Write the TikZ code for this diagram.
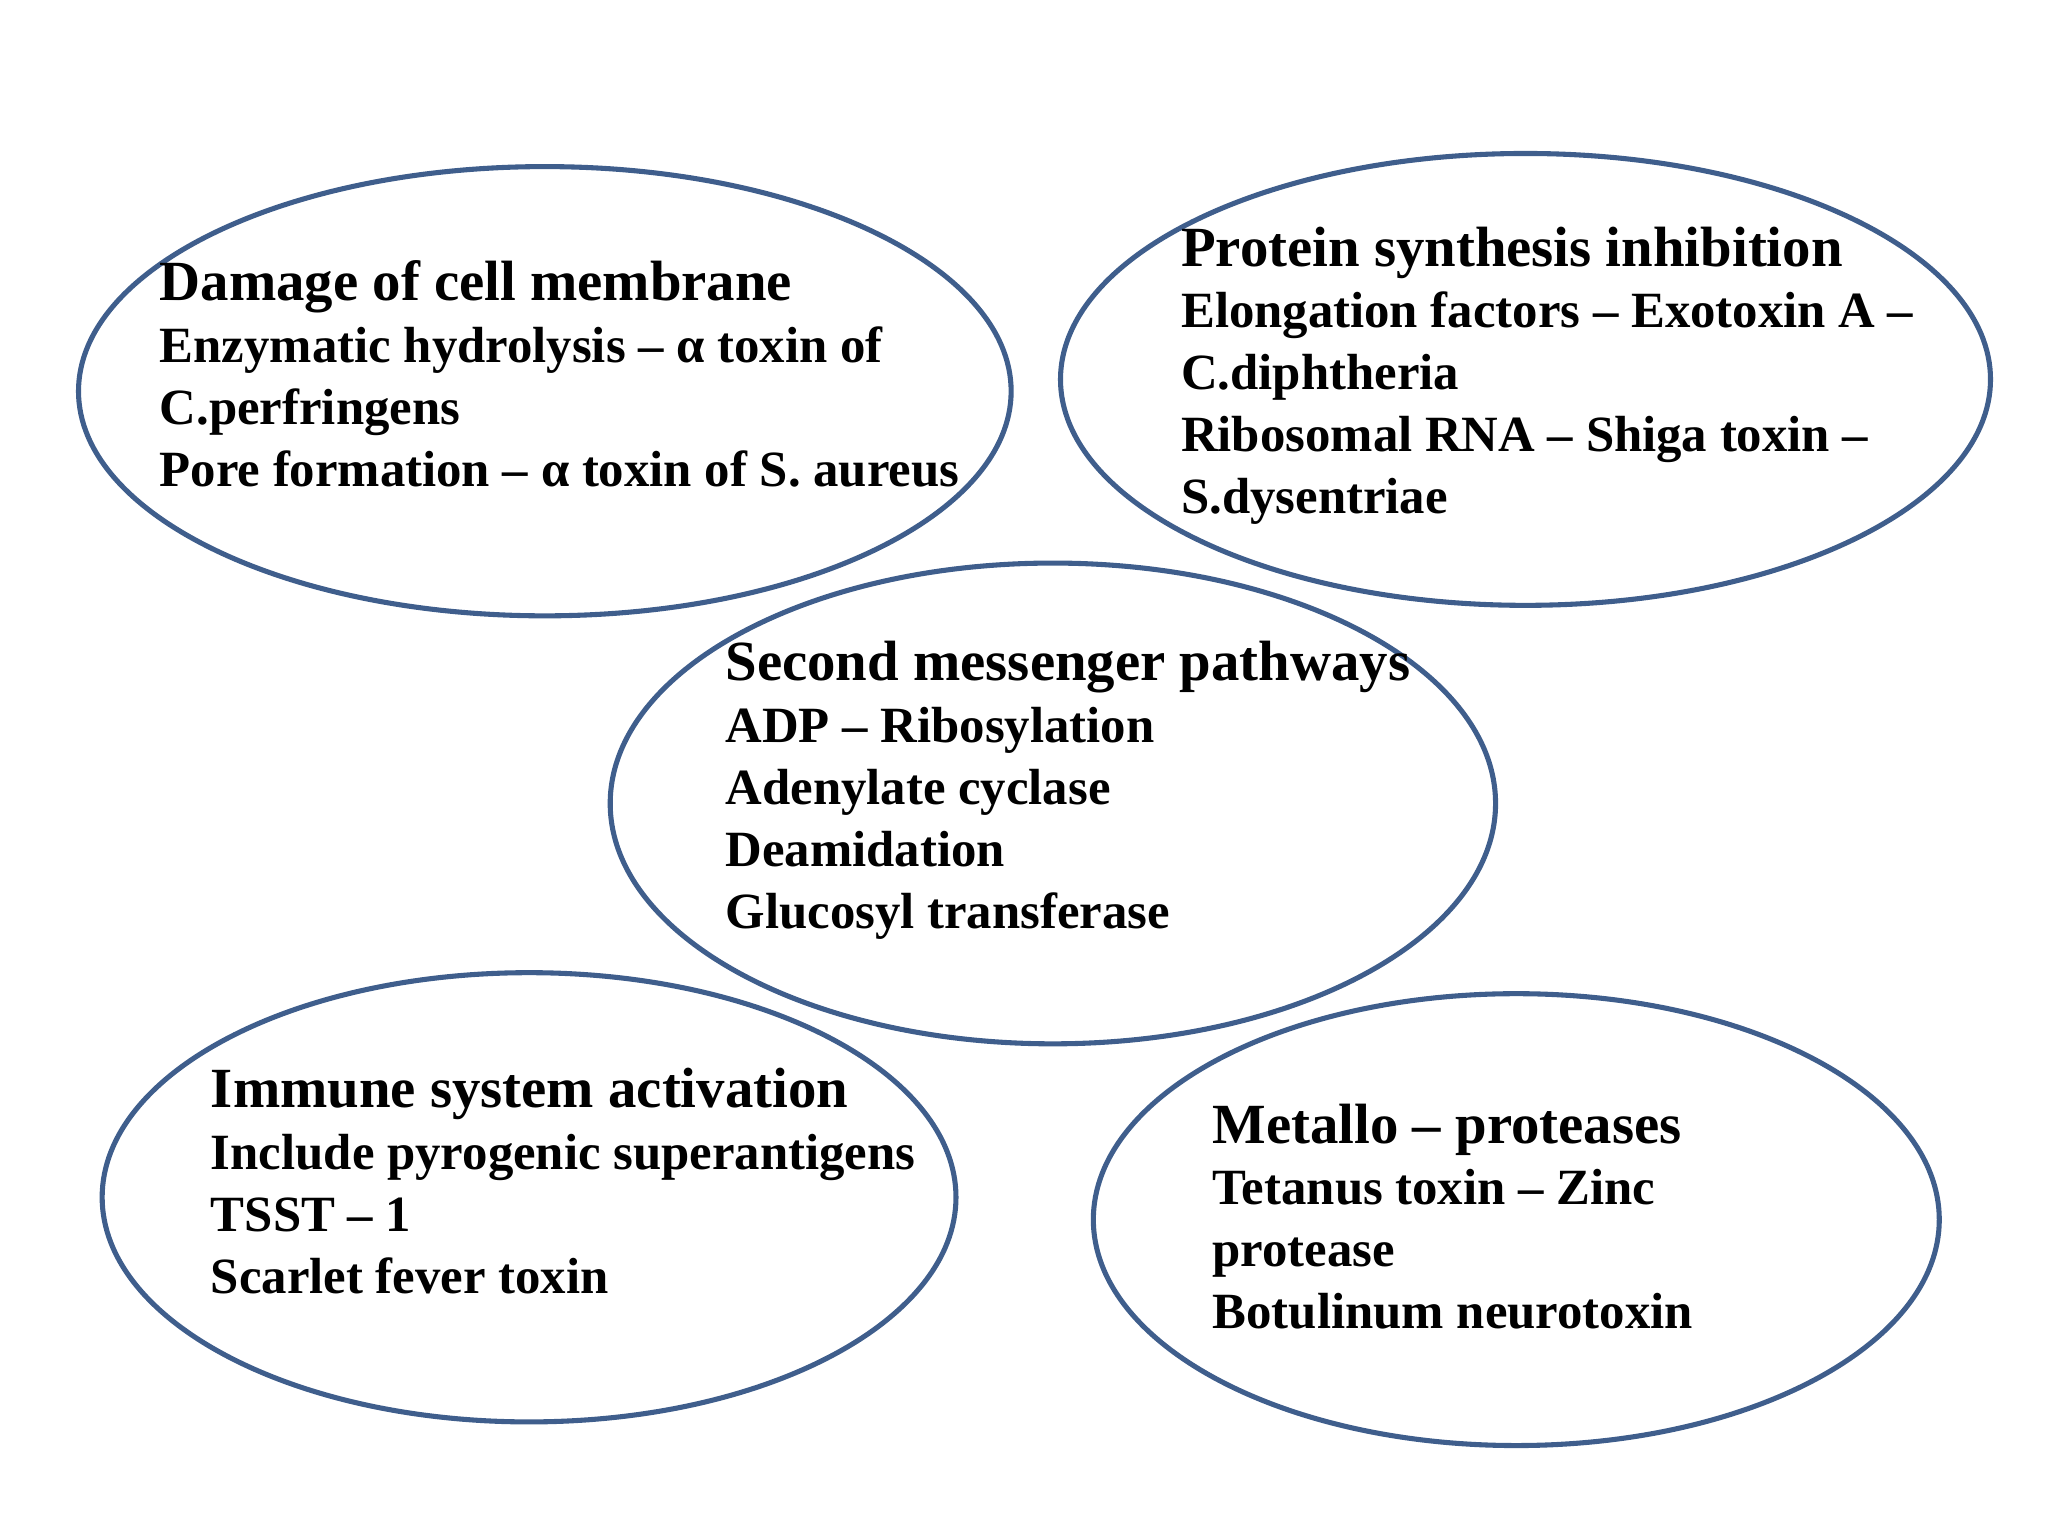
\documentclass[tikz,border=0pt]{standalone}
\usepackage{fontspec}
\setmainfont{Liberation Serif}
\usetikzlibrary{shapes.geometric}
\begin{document}
\begin{tikzpicture}[x=0.01cm,y=-0.01cm,
  oval/.style={draw=ovalc,line width=1.1pt,ellipse,inner sep=0pt},
  txt/.style={anchor=north west,align=left,inner sep=0pt,font=\bfseries\fontsize{11pt}{13.4pt}\selectfont}]
\definecolor{ovalc}{HTML}{3F5E8C}
\useasboundingbox (0,0) rectangle (1560,1170);
\node[oval,minimum width=7.1cm,minimum height=3.42cm] (e1) at (415,298) {};
\node[oval,minimum width=7.08cm,minimum height=3.44cm] (e2) at (1162,289) {};
\node[oval,minimum width=6.74cm,minimum height=3.66cm] (e3) at (802,612) {};
\node[oval,minimum width=6.5cm,minimum height=3.42cm] (e4) at (403,912) {};
\node[oval,minimum width=6.44cm,minimum height=3.44cm] (e5) at (1155,929) {};
\newcommand{\ttl}[1]{{\fontsize{12.3pt}{13.6pt}\selectfont #1}}
\node[txt] (t1) at (121,198) {\ttl{Damage of cell membrane}\\Enzymatic hydrolysis – α toxin of\\C.perfringens\\Pore formation – α toxin of S. aureus};
\node[txt] (t2) at (899,172) {\ttl{Protein synthesis inhibition}\\Elongation factors – Exotoxin A –\\C.diphtheria\\Ribosomal RNA – Shiga toxin –\\S.dysentriae};
\node[txt] (t3) at (552,488) {\ttl{Second messenger pathways}\\ADP – Ribosylation\\Adenylate cyclase\\Deamidation\\Glucosyl transferase};
\node[txt] (t4) at (160,813) {\ttl{Immune system activation}\\Include pyrogenic superantigens\\TSST – 1\\Scarlet fever toxin};
\node[txt] (t5) at (923,840) {\ttl{Metallo – proteases}\\Tetanus toxin – Zinc\\protease\\Botulinum neurotoxin};
\end{tikzpicture}
\end{document}
